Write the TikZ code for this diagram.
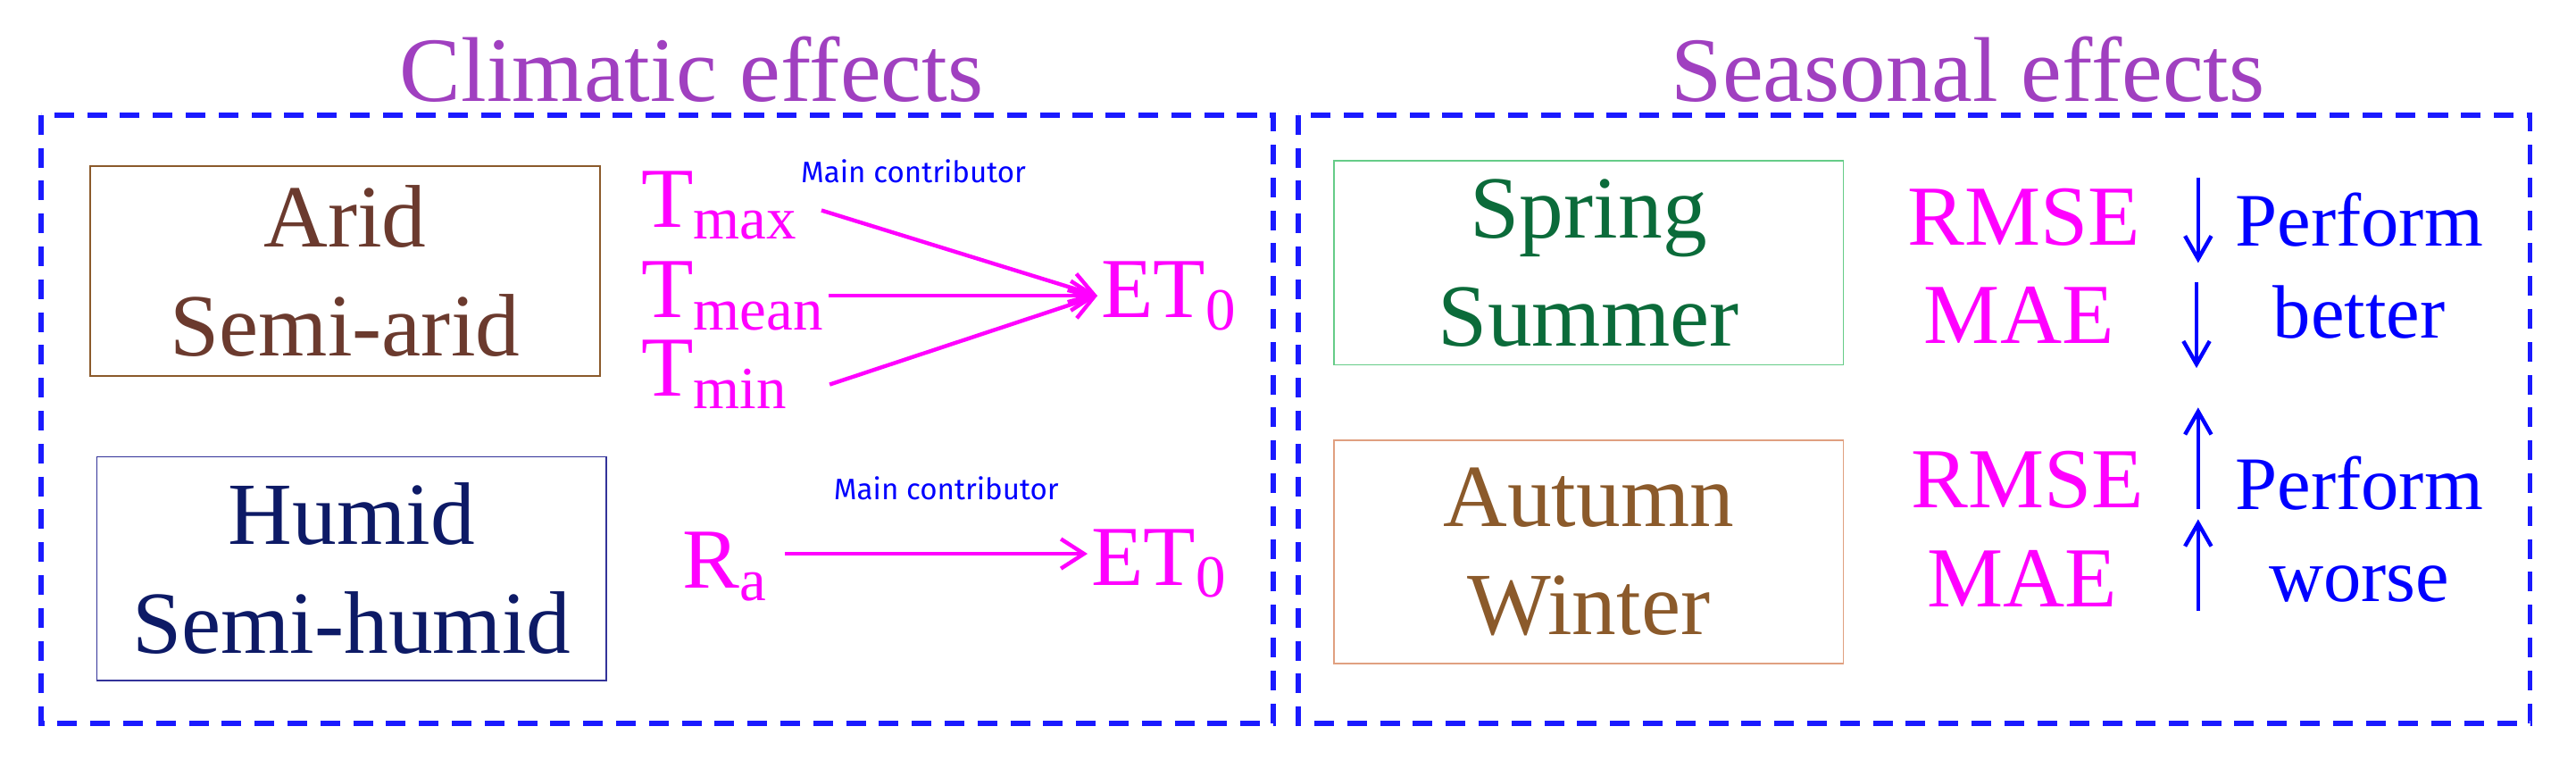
\documentclass[tikz,border=0pt]{standalone}
\usepackage{fontspec}
\setmainfont{Liberation Serif}
\newfontfamily\labfont{Fira Sans}
\usetikzlibrary{arrows.meta}
\definecolor{ttl}{HTML}{A040C0}
\definecolor{dbl}{HTML}{1A1AFF}
\definecolor{mag}{HTML}{FF00FF}
\definecolor{aridc}{HTML}{6B3A2E}
\definecolor{aridb}{HTML}{8B5A2B}
\definecolor{humc}{HTML}{0D1A66}
\definecolor{humb}{HTML}{333399}
\definecolor{sprc}{HTML}{0B6B3A}
\definecolor{sprb}{HTML}{66CC88}
\definecolor{autc}{HTML}{8B5A2B}
\definecolor{autb}{HTML}{E0A080}
\tikzset{
 dbox/.style={draw=dbl,line width=1.6pt,dash pattern=on 6pt off 4pt},
 title/.style={text=ttl,font=\fontsize{28}{30}\selectfont},
 cbox/.style={draw,line width=0.5pt,minimum width=155pt,align=center,font=\fontsize{27}{33}\selectfont},
 mg/.style={text=mag,font=\fontsize{26}{28}\selectfont,inner sep=1pt},
 pf/.style={text=blue,font=\fontsize{23}{28}\selectfont,align=center},
 lab/.style={text=blue,font=\labfont\fontsize{9}{10}\selectfont},
 marr/.style={draw=mag,line width=1.2pt,-{Straight Barb[length=7pt,width=9pt]}},
 barr/.style={draw=blue,line width=1.2pt,-{Straight Barb[length=7pt,width=8pt]}}
}
\begin{document}
\begin{tikzpicture}[x=0.5pt,y=-0.5pt]
\useasboundingbox (0,0) rectangle (1568,462);
\node[title] (t1) at (421,42) {Climatic effects};
\node[title] (t2) at (1198,42) {Seasonal effects};
\draw[dbox] (25,70) rectangle (775,440);
\draw[dbox] (790,70) rectangle (1540,440);
\node[cbox,draw=aridb,text=aridc,minimum height=64pt] (arid) at (210,165) {Arid\\Semi-arid};
\node[cbox,draw=humb,text=humc,minimum height=68pt] (hum) at (214,346) {Humid\\Semi-humid};
\node[cbox,draw=sprb,text=sprc,minimum height=62pt] (spr) at (967,160) {Spring\\Summer};
\node[cbox,draw=autb,text=autc,minimum height=68pt] (aut) at (967,336) {Autumn\\Winter};
% climatic arrows
\node[mg,anchor=west] (tmax) at (388,125) {T\textsubscript{max}};
\node[mg,anchor=west] (tmean) at (388,180) {T\textsubscript{mean}};
\node[mg,anchor=west] (tmin) at (388,228) {T\textsubscript{min}};
\node[mg,anchor=west] (et1) at (668,180) {ET\textsubscript{0}};
\node[lab] (mc1) at (556,104) {Main contributor};
\draw[marr] (500,128) -- (et1.west);
\draw[marr] (tmean.east) -- (et1.west);
\draw[marr] (505,234) -- (et1.west);
\node[mg,anchor=west] (ra) at (413,345) {R\textsubscript{a}};
\node[mg,anchor=west] (et2) at (662,343) {ET\textsubscript{0}};
\node[lab] (mc2) at (576,297) {Main contributor};
\draw[marr] (ra.east) ++(8,-8) coordinate (rs) (rs) -- (et2.west |- rs);
% seasonal
\node[mg] (r1) at (1232,132) {RMSE};
\node[mg] (m1) at (1229,192) {MAE};
\node[mg] (r2) at (1234,292) {RMSE};
\node[mg] (m2) at (1231,352) {MAE};
\coordinate (a1s) at (1338,108); \coordinate (a1e) at (1338,160);
\coordinate (a2s) at (1337,172); \coordinate (a2e) at (1337,224);
\coordinate (a3s) at (1338,310); \coordinate (a3e) at (1338,248);
\coordinate (a4s) at (1338,372); \coordinate (a4e) at (1338,316);
\draw[barr] (a1s) -- (a1e);
\draw[barr] (a2s) -- (a2e);
\draw[barr] (a3s) -- (a3e);
\draw[barr] (a4s) -- (a4e);
\node[pf] (p1) at (1436,162) {Perform\\better};
\node[pf] (p2) at (1436,322) {Perform\\worse};
\end{tikzpicture}
\end{document}
